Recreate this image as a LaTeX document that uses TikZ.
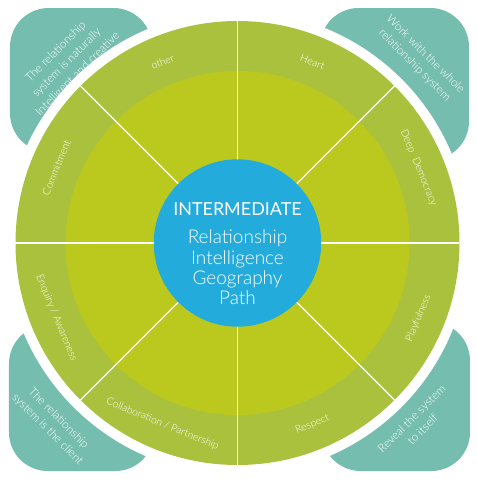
\documentclass[tikz,border=0pt]{standalone}
\usepackage{fontspec}
\setmainfont{Lato}
\newfontfamily\lightfont{Lato Light}
\usetikzlibrary{positioning}
\definecolor{ringouter}{RGB}{170,193,62}
\definecolor{ringinner}{RGB}{187,201,30}
\definecolor{hubblue}{RGB}{35,171,219}
\definecolor{cornerteal}{RGB}{117,190,175}
\tikzset{
  cornerbox/.style={fill=cornerteal, rounded corners=22pt},
  divider/.style={draw=white, line width=0.8pt},
  ringlabel/.style={
    text=white, inner sep=0pt,
    font=\lightfont\fontsize{5.9}{7}\selectfont
  },
  cornerlabel/.style={
    text=white, align=center, inner sep=0pt,
    font=\lightfont\fontsize{6.6}{8.8}\selectfont
  },
  hubtitle/.style={text=white, inner sep=0pt, font=\fontsize{10.2}{12}\selectfont},
  hubtext/.style={
    text=white, align=center, inner sep=0pt,
    font=\lightfont\fontsize{10.8}{11.6}\selectfont
  },
}

\begin{document}
\begin{tikzpicture}[x=0.02cm, y=0.02cm]
  \useasboundingbox (-237.5,-238) rectangle (239.5,243);
  \fill[cornerbox] (-227.5,91) rectangle (-85.5,235);
  \fill[cornerbox] (82.5,83) rectangle (231.5,235);
  \fill[cornerbox] (-228.5,-228) rectangle (-83.5,-82);
  \fill[cornerbox] (84.5,-228) rectangle (232.5,-79);
  \fill[white] (0,0) circle (232);
  \fill[ringouter] (0,0) circle (222);
  \fill[ringinner] (0,0) circle (172);
  \foreach \a in {0,45,...,315}
    \draw[divider] (0,0) -- (\a:222);
  \node (hub) [circle, fill=hubblue, minimum size=95.3pt, inner sep=0pt] at (0,0) {};
  \node (title) [hubtitle] at (0,34) {INTERMEDIATE};
  \node (hubbody) [hubtext, below=7.8pt of title] {Relationship\\Intelligence\\Geography\\Path};
  \node (deepdem) [ringlabel, rotate=-67.5] at (22.5:196) {Deep\ \ Democracy};
  \node (heart) [ringlabel, rotate=-22.5] at (67.5:196) {Heart};
  \node (other) [ringlabel, rotate=22.5] at (112.5:196) {other};
  \node (commit) [ringlabel, rotate=67.5] at (157.5:196) {Commitment};
  \node (enquiry) [ringlabel, rotate=-67.5] at (202.5:196) {Enquiry / Awareness};
  \node (collab) [ringlabel, rotate=-22.5] at (247.5:196) {Collaboration / Partnership};
  \node (respect) [ringlabel, rotate=22.5] at (292.5:196) {Respect};
  \node (playful) [ringlabel, rotate=67.5] at (337.5:196) {Playfulness};
  \node (naturally) [cornerlabel, rotate=45] at (-170.5,180) {The relationship\\system is naturally\\Intelligent and creative};
  \node (wholesys) [cornerlabel, rotate=-45] at (182.5,183) {Work with the whole\\relationship system};
  \node (client) [cornerlabel, rotate=-45] at (-184.5,-181) {The relationship\\system is the client};
  \node (reveal) [cornerlabel, rotate=45] at (179.5,-181) {Reveal the system\\to itself};
\end{tikzpicture}
\end{document}
